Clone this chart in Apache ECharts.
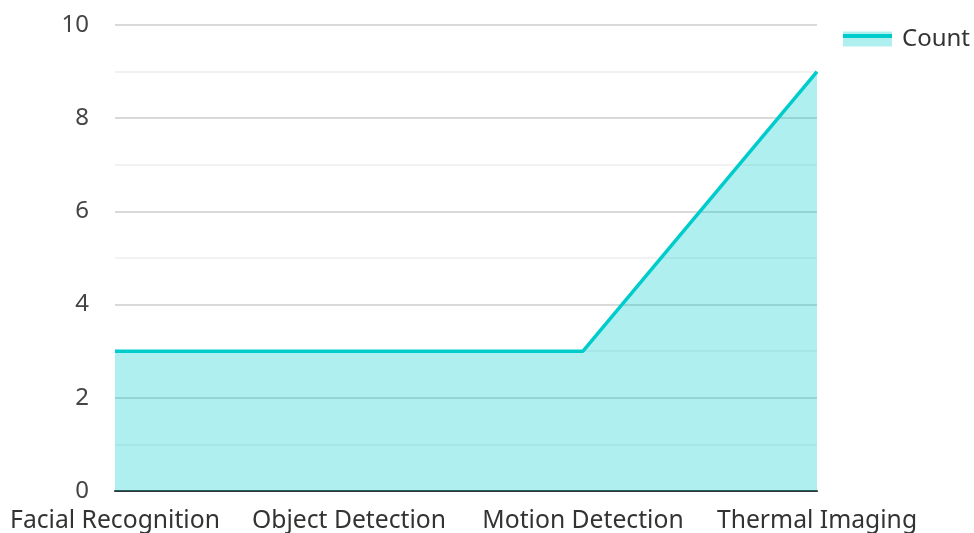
<!DOCTYPE html>
<html><head><meta charset="utf-8">
<script src="https://cdn.jsdelivr.net/npm/echarts@6/dist/echarts.min.js"></script>
<style>html,body{margin:0;padding:0;background:#fff}#c{width:974px;height:533px}</style>
</head><body><div id="c"></div>
<script>
const categories = ["Facial Recognition", "Object Detection", "Motion Detection", "Thermal Imaging"];
const countValues = [3, 3, 3, 9];
const seriesName = "Count";

const chart = echarts.init(document.getElementById('c'));
chart.setOption({
  animation: false,
  textStyle: { fontFamily: 'Noto Sans' },
  legend: {
    right: 4, top: 27, padding: 0,
    itemWidth: 49, itemHeight: 15, itemGap: 10,
    icon: 'rect',
    itemStyle: { color: 'rgba(0,204,204,0.31)' },
    textStyle: { fontSize: 24, color: '#333', fontFamily: 'Noto Sans', padding: [0, 0, 0, 5] },
    data: [seriesName]
  },
  graphic: [{
    type: 'rect', right: 82, top: 34, silent: true,
    shape: { width: 49, height: 4 },
    style: { fill: '#00CCCC' }
  }],
  grid: { left: 115, right: 157, top: 25, bottom: 42, containLabel: false },
  xAxis: {
    type: 'category', data: categories, boundaryGap: false,
    axisLine: { show: true, lineStyle: { color: '#333', width: 2 } },
    axisTick: { show: false },
    axisLabel: { fontSize: 24.7, color: '#333', margin: 17, fontFamily: 'Noto Sans', interval: 0 },
    splitLine: { show: false }
  },
  yAxis: {
    type: 'value', min: 0, max: 10, interval: 2,
    axisLine: { show: false }, axisTick: { show: false },
    axisLabel: { fontSize: 24, color: '#444', margin: 26, fontFamily: 'Noto Sans' },
    splitLine: { show: true, lineStyle: { color: '#ccc', width: 1.5 } },
    minorTick: { show: false, splitNumber: 2 },
    minorSplitLine: { show: true, lineStyle: { color: '#eee', width: 1.5 } }
  },
  series: [{
    name: seriesName, type: 'line', data: countValues,
    symbol: 'none', smooth: false,
    lineStyle: { color: '#00CCCC', width: 3.5 },
    itemStyle: { color: '#00CCCC' },
    areaStyle: { color: '#00CCCC', opacity: 0.31 }
  }]
});
</script></body></html>
